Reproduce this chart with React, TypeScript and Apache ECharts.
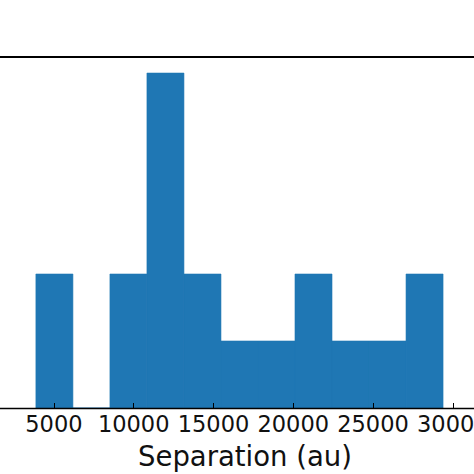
import React, { useEffect, useRef } from "react";
import * as echarts from "echarts";

// Histogram bin edges (au) and counts per bin
const binEdges = [3870, 6190, 8510, 10830, 13150, 15470, 17790, 20110, 22430, 24750, 27070, 29390];
const counts = [2, 0, 2, 5, 2, 1, 1, 2, 1, 1, 2];
const tickValues = [5000, 10000, 15000, 20000, 25000, 30000];
const xLabel = "Separation (au)";

export default function App() {
  const ref = useRef<HTMLDivElement>(null);
  useEffect(() => {
    if (!ref.current) return;
    const chart = echarts.init(ref.current, null, { renderer: "svg" });
    const data = counts.map((c, i) => [binEdges[i], binEdges[i + 1], c]);
    chart.setOption({
      animation: false,
      backgroundColor: "#ffffff",
      grid: {
        left: 0,
        right: 0,
        top: 57,
        bottom: 66,
        containLabel: false,
        outerBoundsMode: "none",
      },
      xAxis: [
        {
          type: "value",
          min: 1620,
          max: 31330,
          position: "bottom",
          z: 5,
          axisLine: { show: true, lineStyle: { color: "#000", width: 1.3 } },
          axisTick: {
            show: true,
            inside: true,
            length: 5,
            customValues: tickValues,
            lineStyle: { color: "#000", width: 1 },
          },
          axisLabel: {
            customValues: tickValues,
            margin: 4,
            fontFamily: "DejaVu Sans",
            fontSize: 22.5,
            color: "#111",
            hideOverlap: false,
            formatter: (v: number) => String(v),
          },
          splitLine: { show: false },
          name: xLabel,
          nameLocation: "middle",
          nameGap: 34,
          nameTextStyle: {
            fontFamily: "DejaVu Sans",
            fontSize: 27.5,
            color: "#111",
            padding: [0, 0, 0, 16],
          },
        },
        {
          type: "value",
          min: 1620,
          max: 31330,
          position: "top",
          axisLine: { show: true, lineStyle: { color: "#000", width: 2 } },
          axisTick: { show: false },
          axisLabel: { show: false },
          splitLine: { show: false },
        },
      ],
      yAxis: {
        type: "value",
        min: 0,
        max: 5.24,
        show: false,
        splitLine: { show: false },
      },
      series: [
        {
          type: "custom",
          xAxisIndex: 0,
          data,
          renderItem: (params: any, api: any) => {
            const x0 = api.value(0);
            const x1 = api.value(1);
            const y = api.value(2);
            const p0 = api.coord([x0, y]);
            const p1 = api.coord([x1, 0]);
            return {
              type: "rect",
              shape: { x: p0[0], y: p0[1], width: p1[0] - p0[0], height: p1[1] - p0[1] },
              style: { fill: "#1f77b4", stroke: "#1f77b4", lineWidth: 0.6 },
            };
          },
        },
      ],
    });
    return () => chart.dispose();
  }, []);
  return (
    <div
      ref={ref}
      style={{ position: "fixed", left: 0, top: 0, width: 474, height: 474 }}
    />
  );
}
